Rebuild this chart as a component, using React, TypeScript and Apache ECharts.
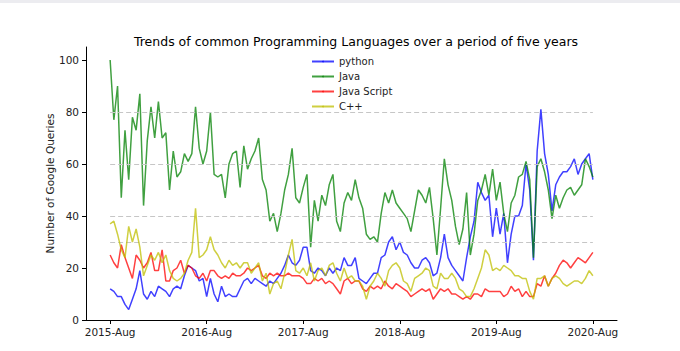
import React, { useEffect, useRef } from "react";
import * as echarts from "echarts";

const titleText = "Trends of common Programming Languages over a period of five years";
const seriesNames = ["python", "Java", "Java Script", "C++"];
const xTickLabels = ["2015-Aug", "2016-Aug", "2017-Aug", "2018-Aug", "2019-Aug", "2020-Aug"];
const xTickValues = [0, 1, 2, 3, 4, 5];
const yTickValues = [0, 20, 40, 60, 80, 100];
const guideLevels = [30, 40, 60, 80];

// biweekly samples, Aug 2015 -> Aug 2020
const python = [
  12, 11, 9, 9, 6, 4, 8, 12, 19, 10,
  8, 11, 9, 13, 12, 11, 9, 12, 13, 12,
  17, 21, 20, 19, 15, 16, 9, 16, 10, 7,
  13, 9, 10, 9, 9, 12, 15, 16, 14, 16,
  15, 14, 13, 15, 14, 16, 18, 21, 25, 22,
  21, 23, 28, 28, 19, 18, 20, 19, 17, 20,
  18, 20, 19, 24, 21, 21, 24, 16, 15, 14,
  16, 18, 18, 24, 25, 30, 32, 27, 30, 26,
  25, 22, 20, 20, 23, 24, 22, 17, 18, 24,
  33, 24, 21, 19, 17, 15, 24, 32, 38, 53,
  49, 46, 48, 32, 43, 33, 41, 22, 33, 40,
  40, 44, 60, 50, 23, 65, 81, 64, 56, 42,
  52, 55, 57, 57, 59, 62, 56, 60, 62, 64,
  54,
];
const java = [
  100, 77, 90, 47, 73, 54, 78, 73, 87, 44,
  69, 82, 70, 84, 70, 72, 50, 65, 55, 57,
  64, 61, 64, 82, 66, 60, 65, 80, 56, 55,
  56, 47, 60, 64, 65, 51, 67, 58, 62, 65,
  70, 54, 50, 38, 41, 34, 41, 50, 56, 66,
  47, 45, 51, 56, 28, 46, 38, 48, 44, 52,
  56, 38, 34, 45, 49, 46, 54, 47, 43, 33,
  31, 32, 30, 41, 49, 45, 50, 45, 43, 41,
  39, 34, 42, 50, 48, 45, 51, 39, 25, 43,
  62, 52, 46, 36, 29, 35, 49, 25, 33, 46,
  50, 56, 48, 58, 46, 53, 41, 34, 45, 48,
  55, 56, 61, 54, 24, 59, 62, 57, 50, 39,
  48, 43, 47, 50, 51, 48, 50, 52, 62, 59,
  55,
];
const javaScript = [
  25, 22, 20, 29, 24, 20, 16, 25, 23, 20,
  22, 26, 19, 19, 27, 15, 15, 19, 20, 23,
  18, 21, 20, 17, 16, 18, 15, 19, 19, 17,
  16, 17, 16, 18, 17, 17, 18, 20, 19, 20,
  21, 17, 16, 18, 17, 18, 17, 17, 18, 17,
  17, 17, 16, 14, 14, 16, 15, 16, 14, 15,
  14, 12, 10, 15, 16, 14, 15, 15, 12, 11,
  13, 12, 13, 12, 15, 13, 12, 14, 13, 12,
  11, 9, 10, 11, 12, 11, 12, 8, 10, 12,
  11, 12, 10, 10, 9, 8, 9, 8, 10, 10,
  9, 12, 11, 11, 11, 11, 9, 10, 13, 11,
  12, 9, 11, 9, 9, 14, 13, 17, 13, 16,
  18, 21, 23, 22, 20, 22, 24, 23, 22, 24,
  26,
];
const cpp = [
  37, 38, 33, 27, 24, 36, 30, 35, 28, 17,
  21, 25, 23, 26, 22, 25, 19, 16, 15, 16,
  18, 23, 26, 43, 24, 25, 27, 32, 27, 25,
  22, 20, 23, 21, 22, 20, 22, 22, 18, 20,
  22, 15, 18, 10, 14, 15, 12, 18, 25, 31,
  19, 18, 20, 17, 22, 15, 19, 20, 17, 21,
  22, 18, 15, 20, 16, 17, 15, 15, 13, 8,
  13, 15, 18, 16, 13, 19, 21, 22, 20, 15,
  14, 11, 16, 17, 18, 20, 19, 13, 12, 18,
  16, 16, 18, 16, 12, 11, 9, 9, 12, 16,
  20, 27, 25, 19, 20, 19, 21, 20, 19, 17,
  17, 16, 16, 11, 8, 16, 16, 17, 13, 16,
  17, 16, 14, 13, 14, 15, 15, 14, 16, 19,
  17,
];

const seriesValues = [python, java, javaScript, cpp];
const seriesColors = ["#0000ff", "#008000", "#ff0000", "#bfbf00"];
const FONT = "DejaVu Sans";

export default function App() {
  const ref = useRef<HTMLDivElement>(null);
  useEffect(() => {
    if (!ref.current) return;
    const chart = echarts.init(ref.current, undefined, { renderer: "svg" });
    const toPoints = (vals: number[]) =>
      vals.map((v, i) => [(i * 5) / (vals.length - 1), v]);
    const lineSeries = seriesNames.map((name, k) => ({
      name,
      type: "line",
      data: toPoints(seriesValues[k]),
      symbol: "none",
      showSymbol: false,
      z: 3 + k,
      lineStyle: { color: seriesColors[k], width: 1.5, opacity: 0.75 },
      itemStyle: { color: seriesColors[k], opacity: 0.75 },
    }));
    chart.setOption({
      animation: false,
      textStyle: { fontFamily: FONT },
      title: {
        text: titleText,
        left: 351,
        top: 30,
        textAlign: "center",
        textStyle: { fontFamily: FONT, fontSize: 12.5, fontWeight: "normal", color: "#000" },
      },
      legend: {
        data: seriesNames,
        orient: "vertical",
        left: 306,
        top: 49,
        itemWidth: 22,
        itemHeight: 2,
        itemGap: 0,
        textStyle: { fontFamily: FONT, fontSize: 10, lineHeight: 15, color: "#222" },
      },
      grid: { left: 86, right: 63, top: 47, bottom: 31 },
      xAxis: {
        type: "value",
        min: -0.25,
        max: 5.25,
        axisLine: { show: true, onZero: false, lineStyle: { color: "#000", width: 1 } },
        axisTick: { show: true, customValues: xTickValues, length: 4, lineStyle: { color: "#000" } },
        axisLabel: {
          customValues: xTickValues,
          formatter: (v: number) => xTickLabels[Math.round(v)] ?? "",
          margin: 6,
          fontSize: 10.5,
          color: "#222",
          fontFamily: FONT,
        },
        splitLine: { show: false },
      },
      yAxis: {
        type: "value",
        min: 0,
        max: 105,
        name: "Number of Google Queries",
        nameLocation: "middle",
        nameGap: 31,
        nameMoveOverlap: false,
        nameTextStyle: { fontFamily: FONT, fontSize: 10.5, color: "#222" },
        axisLine: { show: true, onZero: false, lineStyle: { color: "#000", width: 1 } },
        axisTick: { show: true, customValues: yTickValues, length: 4, lineStyle: { color: "#000" } },
        axisLabel: { customValues: yTickValues, margin: 7, fontSize: 10.5, color: "#222", fontFamily: FONT },
        splitLine: { show: false },
      },
      graphic: [
        { type: "rect", shape: { x: 0, y: 0, width: 680, height: 3 }, style: { fill: "#ececf0" }, silent: true },
      ],
      series: [
        {
          name: "guides",
          type: "line",
          data: [],
          z: 1,
          markLine: {
            silent: true,
            symbol: "none",
            label: { show: false },
            lineStyle: { type: [5, 3], color: "#c6c6c6", width: 1 },
            data: guideLevels.map((v) => [{ coord: [0, v] }, { coord: [5, v] }]),
          },
        },
        ...lineSeries,
      ],
    });
    return () => chart.dispose();
  }, []);
  return (
    <div
      ref={ref}
      style={{ position: "absolute", left: 0, top: 0, width: 680, height: 351, background: "#fff" }}
    />
  );
}
